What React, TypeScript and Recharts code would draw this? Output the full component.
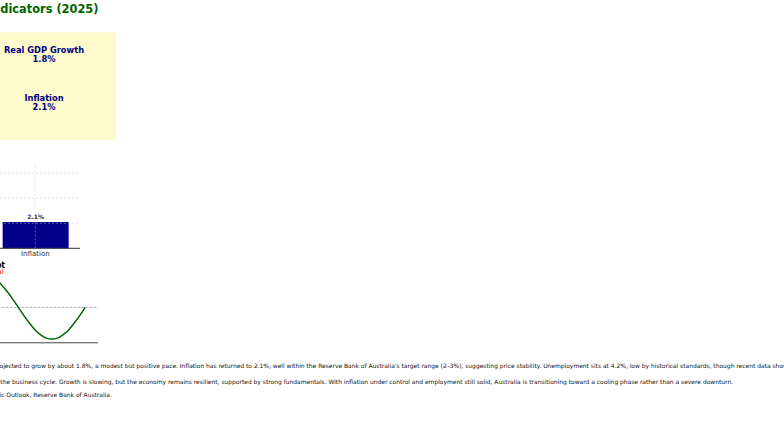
import React from "react";
import {
  BarChart,
  Bar,
  XAxis,
  YAxis,
  LabelList,
  LineChart,
  Line,
  ReferenceLine,
} from "recharts";

// ---- data ----
const indicatorNames = ["Real GDP Growth", "Inflation"];
const indicatorValues = ["1.8%", "2.1%"];

const barCategories = ["Real GDP Growth", "Unemployment", "Inflation"];
const barValues = [1.8, 4.2, 2.1];
const barTicks = [0, 2, 4, 6];

const cycleT = [0, 1, 2, 3, 4, 5, 6, 7, 8, 9, 10, 11, 12, 13, 14, 15, 16, 17, 18, 19, 20, 21, 22, 23, 24];
const cycleValues = [
  0, 0.26, 0.5, 0.71, 0.87, 0.97, 1, 0.97, 0.87, 0.71, 0.5, 0.26, 0,
  -0.26, -0.5, -0.71, -0.87, -0.97, -1, -0.97, -0.87, -0.71, -0.5, -0.26, 0,
];

const titleText = "Australia Economic Indicators (2025)";
const cycleTitle = "Australia Business Cycle Snapshot";
const cycleSubtitle = "Current phase: cooling toward neutral";
const noteLines = [
  "ojected to grow by about 1.8%, a modest but positive pace. Inflation has returned to 2.1%, well within the Reserve Bank of Australia's target range (2–3%), suggesting price stability. Unemployment sits at 4.2%, low by historical standards, though recent data shows",
  "the business cycle. Growth is slowing, but the economy remains resilient, supported by strong fundamentals. With inflation under control and employment still solid, Australia is transitioning toward a cooling phase rather than a severe downturn.",
  "ic Outlook, Reserve Bank of Australia.",
];

const FONT = "'DejaVu Sans', sans-serif";

const barData = barCategories.map((name, i) => ({ name, value: barValues[i] }));
const cycleData = cycleT.map((t, i) => ({ t, v: cycleValues[i] }));

export default function App() {
  return (
    <div
      style={{
        position: "absolute",
        left: 0,
        top: 0,
        width: 784,
        height: 441,
        overflow: "hidden",
        background: "#fff",
        fontFamily: FONT,
      }}
    >
      {/* background texts + box */}
      <svg
        width={784}
        height={441}
        style={{ position: "absolute", left: 0, top: 0 }}
      >
        <text
          x={98.5}
          y={13.2}
          textAnchor="end"
          fontFamily={FONT}
          fontSize={11.4}
          fontWeight="bold"
          fill="#006400"
        >
          {titleText}
        </text>
        <rect x={-200} y={32.3} width={316.3} height={107.7} fill="#FFFACD" />
        {indicatorNames.map((n, i) => (
          <g key={n}>
            <text
              x={44}
              y={53 + i * 47.7}
              textAnchor="middle"
              fontFamily={FONT}
              fontSize={8.3}
              fontWeight="bold"
              fill="#000080"
            >
              {n}
            </text>
            <text
              x={44}
              y={62.4 + i * 47.7}
              textAnchor="middle"
              fontFamily={FONT}
              fontSize={8.3}
              fontWeight="bold"
              fill="#000080"
            >
              {indicatorValues[i]}
            </text>
          </g>
        ))}
        <text
          x={5.2}
          y={268}
          textAnchor="end"
          fontFamily={FONT}
          fontSize={8}
          fontWeight="bold"
          fill="#000"
        >
          {cycleTitle}
        </text>
        <text
          x={3.6}
          y={273.5}
          textAnchor="end"
          fontFamily={FONT}
          fontSize={7}
          fill="#e00000"
        >
          {cycleSubtitle}
        </text>
        {noteLines.map((l, i) => (
          <text
            key={i}
            x={i === 1 ? 0.3 : -0.5}
            y={[367.5, 383.5, 396.5][i]}
            fontFamily={FONT}
            fontSize={5.96}
            fill="#111"
          >
            {l}
          </text>
        ))}
      </svg>

      {/* bar chart */}
      <div style={{ position: "absolute", left: -188, top: 163 }}>
        <BarChart
          width={268}
          height={105.3}
          data={barData}
          margin={{ top: 0, right: 0, bottom: 0, left: 0 }}
          barSize={66}
        >
          <XAxis
            dataKey="name"
            interval={0}
            tickLine={false}
            tickSize={0}
            tickMargin={3}
            height={20}
            axisLine={{ stroke: "#333", strokeWidth: 1 }}
            tick={{ fontSize: 7, fill: "#333", fontFamily: FONT }}
          />
          <YAxis hide type="number" domain={[0, 6.8]} ticks={barTicks} />
          <Bar dataKey="value" fill="#00008B" isAnimationActive={false}>
            <LabelList
              dataKey="value"
              position="top"
              offset={2.5}
              formatter={(v: number) => `${v}%`}
              style={{ fontSize: 6, fontWeight: "bold", fill: "#333", fontFamily: FONT }}
            />
          </Bar>
          {barTicks.slice(1).map((t) => (
            <ReferenceLine
              key={`h${t}`}
              y={t}
              stroke="#c8c8c8"
              strokeOpacity={0.8}
              strokeDasharray="2 2"
              strokeWidth={0.6}
            />
          ))}
          {barCategories.map((c) => (
            <ReferenceLine
              key={`v${c}`}
              x={c}
              stroke="#c8c8c8"
              strokeOpacity={0.8}
              strokeDasharray="2 2"
              strokeWidth={0.6}
            />
          ))}
        </BarChart>
      </div>

      {/* business cycle line chart */}
      <div style={{ position: "absolute", left: -62.4, top: 271.9 }}>
        <LineChart
          width={160.7}
          height={72.8}
          data={cycleData}
          margin={{ top: 0, right: 0, bottom: 0, left: 0 }}
        >
          <XAxis
            dataKey="t"
            type="number"
            domain={[-2.4, 26.4]}
            allowDataOverflow
            tick={false}
            tickLine={false}
            height={2}
            axisLine={{ stroke: "#444", strokeWidth: 1 }}
          />
          <YAxis hide type="number" domain={[-1.117, 1.117]} allowDataOverflow />
          <ReferenceLine y={0} stroke="#999" strokeDasharray="2.5 1.5" strokeWidth={0.8} />
          <Line
            type="monotone"
            dataKey="v"
            stroke="#006400"
            strokeWidth={1.5}
            dot={false}
            isAnimationActive={false}
          />
        </LineChart>
      </div>
    </div>
  );
}
